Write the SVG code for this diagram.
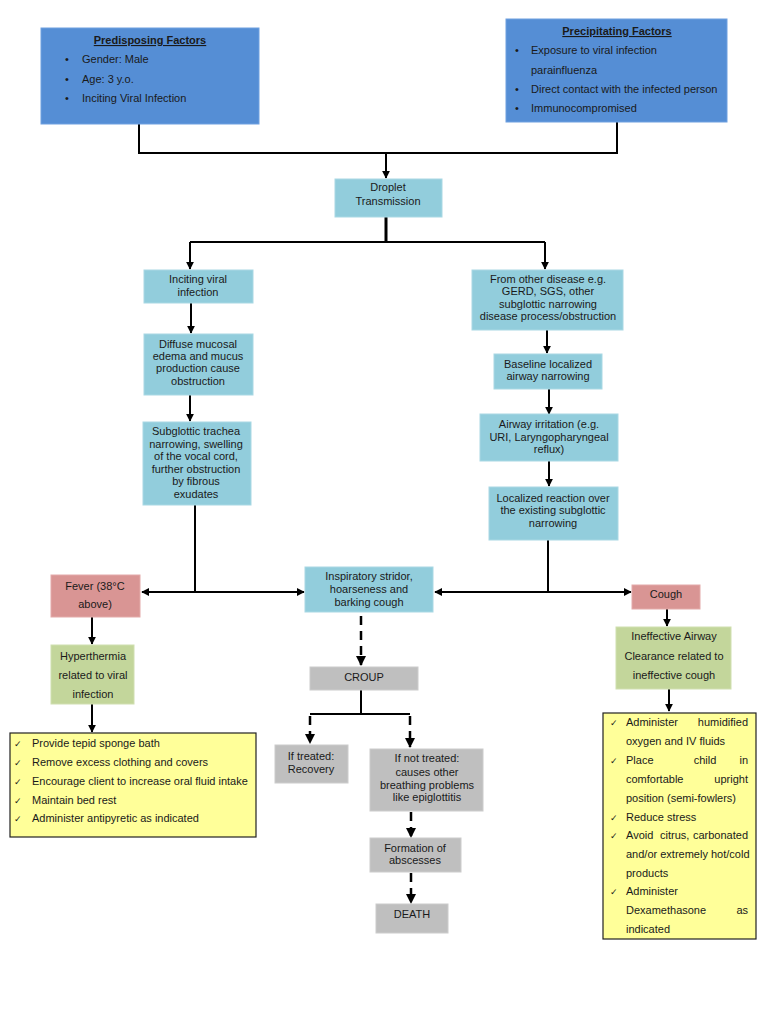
<svg xmlns="http://www.w3.org/2000/svg" width="768" height="1024" viewBox="0 0 768 1024">
<style>
text{font-family:"Liberation Sans",Arial,sans-serif;font-size:11px;fill:#1a1a1a}
.c{text-anchor:middle}
.e{text-anchor:end}
.t{font-weight:bold;text-decoration:underline}
.top{fill:#558ED5;stroke:#6fa0e0;stroke-width:1}
.lb{fill:#92CDDC;stroke:#a9d8e4;stroke-width:1}
.rd{fill:#D99594;stroke:#e3aaa9;stroke-width:1}
.gr{fill:#C3D69B;stroke:#d0dfb0;stroke-width:1}
.gy{fill:#BFBFBF;stroke:#cccccc;stroke-width:1}
.yl{fill:#FFFF99;stroke:#222;stroke-width:1.2}
.ln{fill:none;stroke:#000;stroke-width:2}
.ar{fill:none;stroke:#000;stroke-width:2;marker-end:url(#ah)}
.ab{fill:none;stroke:#000;stroke-width:2;marker-end:url(#ah);marker-start:url(#as)}
.da{fill:none;stroke:#000;stroke-width:2.5;stroke-dasharray:9,6;marker-end:url(#ah)}
</style>
<defs>
<marker id="ah" viewBox="0 0 10 10" refX="9" refY="5" markerWidth="4" markerHeight="4" orient="auto" markerUnits="strokeWidth">
<path d="M0,0 L10,5 L0,10 z" fill="#000"/>
</marker>
<marker id="as" viewBox="0 0 10 10" refX="1" refY="5" markerWidth="4" markerHeight="4" orient="auto" markerUnits="strokeWidth">
<path d="M10,0 L0,5 L10,10 z" fill="#000"/>
</marker>
</defs>
<rect width="768" height="1024" fill="#fff"/>

<g id="connectors">
<path class="ln" d="M139,124 V153 H617 V122"/>
<path class="ar" d="M386,153 V178"/>
<path class="ln" d="M386,217 V242" style="stroke-width:3"/>
<path class="ln" d="M190,242 H545"/>
<path class="ar" d="M190,242 V269"/>
<path class="ar" d="M545,242 V269"/>
<path class="ar" d="M191,303 V333"/>
<path class="ar" d="M190,395 V421"/>
<path class="ln" d="M195,505 V592"/>
<path class="ab" d="M142,592 H304"/>
<path class="ar" d="M547,330 V353"/>
<path class="ar" d="M549,389 V414"/>
<path class="ar" d="M549,461 V486"/>
<path class="ln" d="M548,540 V592"/>
<path class="ab" d="M435,592 H631"/>
<path class="ar" d="M92,617 V644"/>
<path class="ar" d="M92,704 V732"/>
<path class="ar" d="M667,609 V626"/>
<path class="ar" d="M669,689 V711"/>
<path class="da" d="M361,616 V665"/>
<path class="ln" d="M361,690 V714 M310,714 H410"/>
<path class="da" d="M310,716 V743"/>
<path class="da" d="M410,716 V747"/>
<path class="da" d="M411,812 V837"/>
<path class="da" d="M411,873 V903"/>
</g>

<g id="predisposing">
<rect class="top" x="41" y="28" width="218" height="96"/>
<text class="c t" x="150" y="44">Predisposing Factors</text>
<text x="65" y="63">•</text><text x="82" y="63">Gender: Male</text>
<text x="65" y="83">•</text><text x="82" y="83">Age: 3 y.o.</text>
<text x="65" y="102">•</text><text x="82" y="102">Inciting Viral Infection</text>
</g>

<g id="precipitating">
<rect class="top" x="506" y="19" width="221" height="103"/>
<text class="c t" x="617" y="35">Precipitating Factors</text>
<text x="515" y="54">•</text><text x="531" y="54">Exposure to viral infection</text>
<text x="531" y="74">parainfluenza</text>
<text x="515" y="93">•</text><text x="531" y="93">Direct contact with the infected person</text>
<text x="515" y="112">•</text><text x="531" y="112">Immunocompromised</text>
</g>

<g id="droplet">
<rect class="lb" x="335" y="179" width="107" height="38"/>
<text class="c" x="388" y="191">Droplet</text>
<text class="c" x="388" y="205">Transmission</text>
</g>

<g id="inciting">
<rect class="lb" x="144" y="270" width="109" height="33"/>
<text class="c" x="198" y="283">Inciting viral</text>
<text class="c" x="198" y="296">infection</text>
</g>

<g id="diffuse">
<rect class="lb" x="144" y="334" width="109" height="61"/>
<text class="c" x="198" y="348">Diffuse mucosal</text>
<text class="c" x="198" y="360">edema and mucus</text>
<text class="c" x="198" y="372">production cause</text>
<text class="c" x="198" y="385">obstruction</text>
</g>

<g id="subglottic">
<rect class="lb" x="143" y="422" width="108" height="83"/>
<text class="c" x="196" y="435">Subglottic trachea</text>
<text class="c" x="196" y="448">narrowing, swelling</text>
<text class="c" x="196" y="460">of the vocal cord,</text>
<text class="c" x="196" y="473">further obstruction</text>
<text class="c" x="196" y="485">by fibrous</text>
<text class="c" x="196" y="498">exudates</text>
</g>

<g id="other-disease">
<rect class="lb" x="472" y="270" width="151" height="60"/>
<text class="c" x="548" y="283">From other disease e.g.</text>
<text class="c" x="548" y="295">GERD, SGS, other</text>
<text class="c" x="548" y="308">subglottic narrowing</text>
<text class="c" x="548" y="320">disease process/obstruction</text>
</g>

<g id="baseline">
<rect class="lb" x="494" y="354" width="108" height="35"/>
<text class="c" x="548" y="368">Baseline localized</text>
<text class="c" x="548" y="380">airway narrowing</text>
</g>

<g id="irritation">
<rect class="lb" x="480" y="414" width="138" height="47"/>
<text class="c" x="549" y="428">Airway irritation (e.g.</text>
<text class="c" x="549" y="441">URI, Laryngopharyngeal</text>
<text class="c" x="549" y="453">reflux)</text>
</g>

<g id="localized">
<rect class="lb" x="489" y="487" width="129" height="53"/>
<text class="c" x="553" y="502">Localized reaction over</text>
<text class="c" x="553" y="514">the existing subglottic</text>
<text class="c" x="553" y="527">narrowing</text>
</g>

<g id="fever">
<rect class="rd" x="51" y="575" width="89" height="42"/>
<text class="c" x="95" y="590">Fever (38°C</text>
<text class="c" x="95" y="608">above)</text>
</g>

<g id="inspiratory">
<rect class="lb" x="305" y="567" width="128" height="45"/>
<text class="c" x="369" y="580">Inspiratory stridor,</text>
<text class="c" x="369" y="593">hoarseness and</text>
<text class="c" x="369" y="606">barking cough</text>
</g>

<g id="cough">
<rect class="rd" x="632" y="585" width="68" height="24"/>
<text class="c" x="666" y="598">Cough</text>
</g>

<g id="hyperthermia">
<rect class="gr" x="51" y="645" width="83" height="59"/>
<text class="c" x="93" y="660">Hyperthermia</text>
<text class="c" x="93" y="679">related to viral</text>
<text class="c" x="93" y="698">infection</text>
</g>

<g id="ineffective">
<rect class="gr" x="616" y="627" width="115" height="62"/>
<text class="c" x="674" y="640">Ineffective Airway</text>
<text class="c" x="674" y="660">Clearance related to</text>
<text class="c" x="674" y="679">ineffective cough</text>
</g>

<g id="croup">
<rect class="gy" x="310" y="667" width="108" height="23"/>
<text class="c" x="364" y="681">CROUP</text>
</g>

<g id="treated">
<rect class="gy" x="275" y="745" width="73" height="38"/>
<text class="c" x="311" y="760">If treated:</text>
<text class="c" x="311" y="773">Recovery</text>
</g>

<g id="not-treated">
<rect class="gy" x="370" y="749" width="113" height="62"/>
<text class="c" x="427" y="762">If not treated:</text>
<text class="c" x="427" y="776">causes other</text>
<text class="c" x="427" y="789">breathing problems</text>
<text class="c" x="427" y="801">like epiglottitis</text>
</g>

<g id="abscesses">
<rect class="gy" x="370" y="838" width="91" height="34"/>
<text class="c" x="415" y="852">Formation of</text>
<text class="c" x="415" y="864">abscesses</text>
</g>

<g id="death">
<rect class="gy" x="376" y="904" width="72" height="29"/>
<text class="c" x="412" y="918">DEATH</text>
</g>

<g id="fever-care">
<rect class="yl" x="10" y="733" width="246" height="104"/>
<text x="14" y="747" style="font-family:'DejaVu Sans',sans-serif;font-size:9px">✓</text><text x="32" y="747">Provide tepid sponge bath</text>
<text x="14" y="766" style="font-family:'DejaVu Sans',sans-serif;font-size:9px">✓</text><text x="32" y="766">Remove excess clothing and covers</text>
<text x="14" y="785" style="font-family:'DejaVu Sans',sans-serif;font-size:9px">✓</text><text x="32" y="785">Encourage client to increase oral fluid intake</text>
<text x="14" y="804" style="font-family:'DejaVu Sans',sans-serif;font-size:9px">✓</text><text x="32" y="804">Maintain bed rest</text>
<text x="14" y="822" style="font-family:'DejaVu Sans',sans-serif;font-size:9px">✓</text><text x="32" y="822">Administer antipyretic as indicated</text>
</g>

<g id="airway-care">
<rect class="yl" x="603" y="713" width="153" height="226"/>
<text x="610" y="726" style="font-family:'DejaVu Sans',sans-serif;font-size:9px">✓</text><text x="626" y="726">Administer</text><text class="e" x="748" y="726">humidified</text>
<text x="626" y="745">oxygen and IV fluids</text>
<text x="610" y="764" style="font-family:'DejaVu Sans',sans-serif;font-size:9px">✓</text><text x="626" y="764">Place</text><text class="c" x="705" y="764">child</text><text class="e" x="748" y="764">in</text>
<text x="626" y="783">comfortable</text><text class="e" x="748" y="783">upright</text>
<text x="626" y="802">position (semi-fowlers)</text>
<text x="610" y="821" style="font-family:'DejaVu Sans',sans-serif;font-size:9px">✓</text><text x="626" y="821">Reduce stress</text>
<text x="610" y="839" style="font-family:'DejaVu Sans',sans-serif;font-size:9px">✓</text><text x="626" y="839">Avoid</text><text x="660" y="839">citrus,</text><text class="e" x="748" y="839">carbonated</text>
<text x="626" y="858">and/or extremely hot/cold</text>
<text x="626" y="877">products</text>
<text x="610" y="895" style="font-family:'DejaVu Sans',sans-serif;font-size:9px">✓</text><text x="626" y="895">Administer</text>
<text x="626" y="914">Dexamethasone</text><text class="e" x="748" y="914">as</text>
<text x="626" y="933">indicated</text>
</g>
</svg>
